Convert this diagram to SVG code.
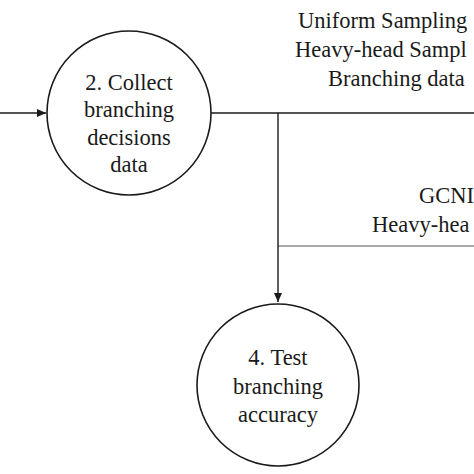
<svg xmlns="http://www.w3.org/2000/svg" width="474" height="474" viewBox="0 0 474 474">
<style>
.n{fill:#fff;stroke:#1a1a1a;stroke-width:1.6}
.c{stroke:#1a1a1a;stroke-width:1.4;fill:none}
.g{stroke:#8c8c8c;stroke-width:1.4;fill:none}
</style>
<defs>
<marker id="ah" markerWidth="10" markerHeight="8" refX="9" refY="4" orient="auto" markerUnits="userSpaceOnUse">
<path d="M0,0 L9,4 L0,8 Z" fill="#1a1a1a"/>
</marker>
</defs>
<rect width="474" height="474" fill="#fff"/>
<g id="connectors">
<line class="c" x1="0" y1="113" x2="46" y2="113" marker-end="url(#ah)"/>
<line class="c" x1="211" y1="113" x2="474" y2="113"/>
<line class="g" x1="278" y1="246" x2="474" y2="246"/>
<line class="c" x1="278" y1="113" x2="278" y2="302" marker-end="url(#ah)"/>
</g>
<g id="labels" font-family="Liberation Serif" font-size="22.5" fill="#1a1a1a">
<text style="font-family:'Liberation Serif',serif !important" x="298" y="28">Uniform Sampling</text>
<text style="font-family:'Liberation Serif',serif !important" x="295" y="57">Heavy-head Sampl</text>
<text style="font-family:'Liberation Serif',serif !important" x="328" y="86">Branching data</text>
<text style="font-family:'Liberation Serif',serif !important" x="419" y="203">GCNI</text>
<text style="font-family:'Liberation Serif',serif !important" x="372" y="232">Heavy-hea</text>
</g>
<g id="node2" font-family="Liberation Serif" font-size="22.5" fill="#1a1a1a">
<circle class="n" cx="129" cy="113" r="82"/>
<text style="font-family:'Liberation Serif',serif !important" text-anchor="middle" x="129" y="90">2. Collect</text>
<text style="font-family:'Liberation Serif',serif !important" text-anchor="middle" x="129" y="117">branching</text>
<text style="font-family:'Liberation Serif',serif !important" text-anchor="middle" x="129" y="145">decisions</text>
<text style="font-family:'Liberation Serif',serif !important" text-anchor="middle" x="129" y="172">data</text>
</g>
<g id="node4" font-family="Liberation Serif" font-size="22.5" fill="#1a1a1a">
<circle class="n" cx="278" cy="385" r="81"/>
<text style="font-family:'Liberation Serif',serif !important" text-anchor="middle" x="278" y="365">4. Test</text>
<text style="font-family:'Liberation Serif',serif !important" text-anchor="middle" x="278" y="394">branching</text>
<text style="font-family:'Liberation Serif',serif !important" text-anchor="middle" x="278" y="422">accuracy</text>
</g>
</svg>
